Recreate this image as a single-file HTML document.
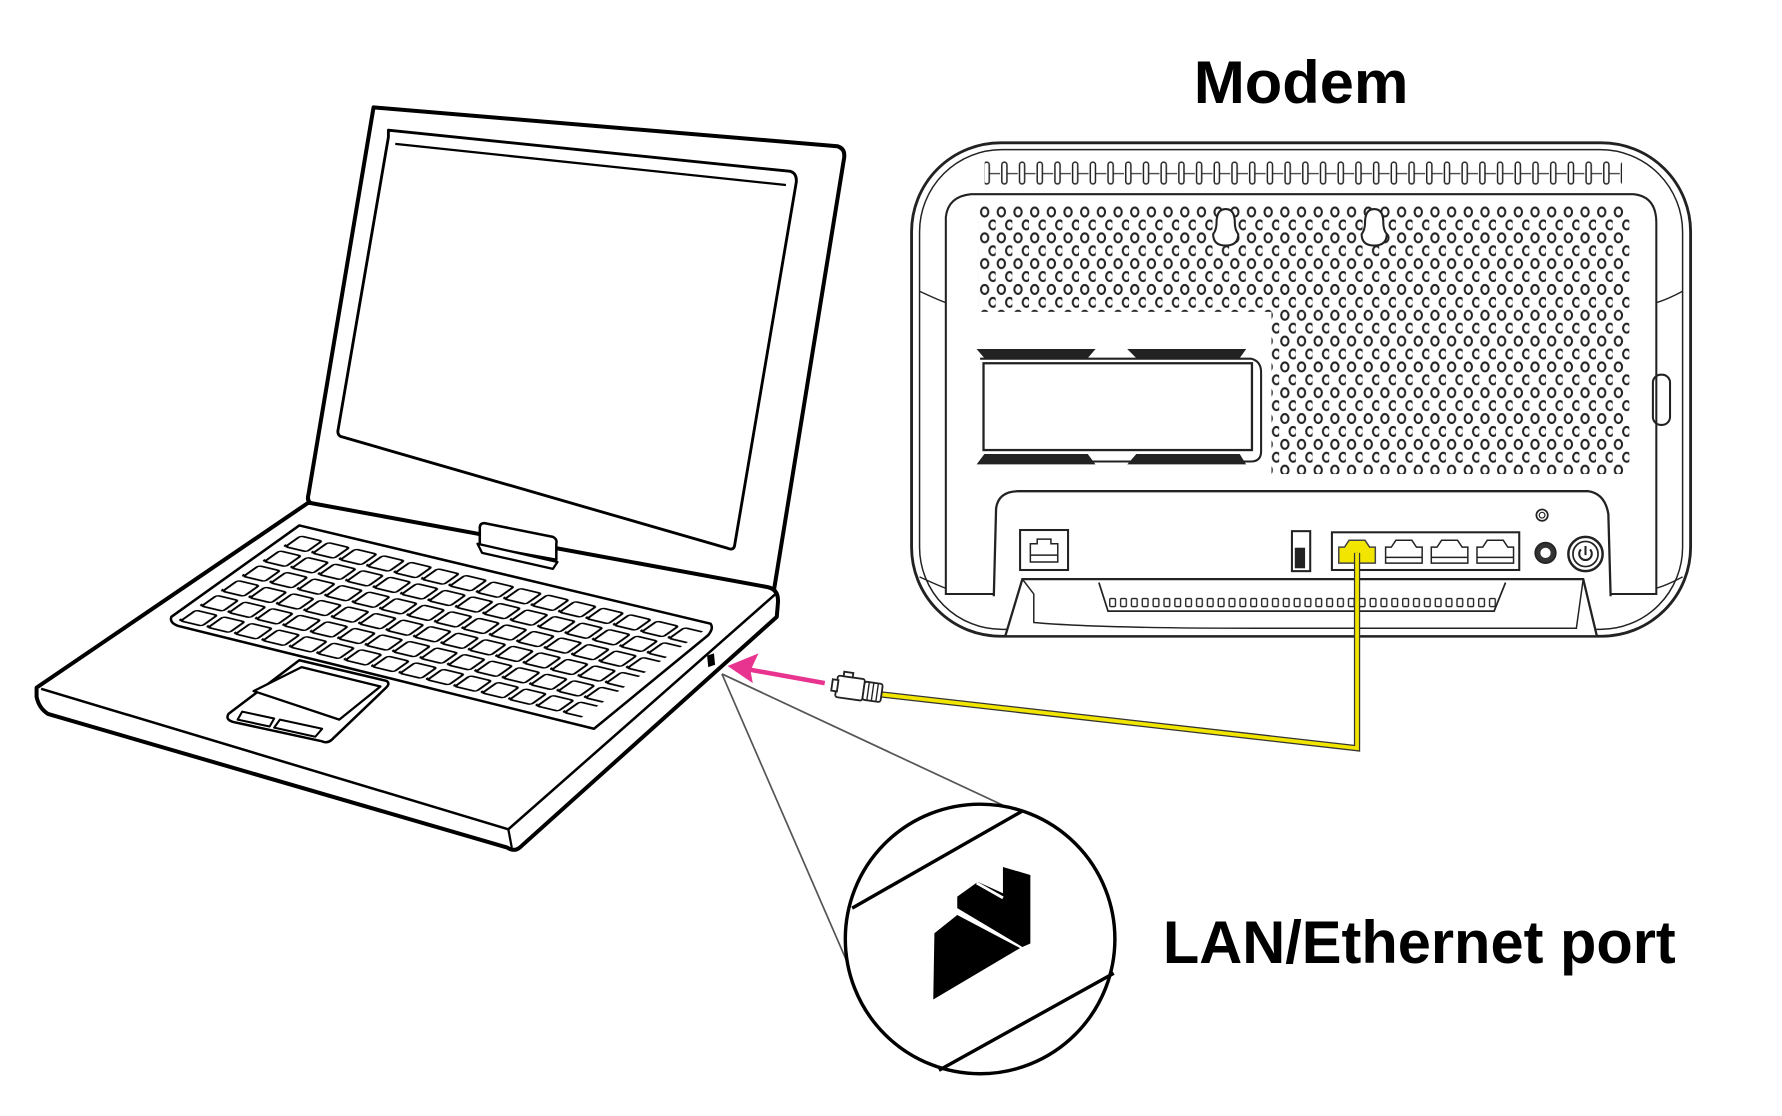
<!DOCTYPE html>
<html><head><meta charset="utf-8"><style>
html,body{margin:0;padding:0;background:#fff;}
svg{display:block;}
</style></head><body>
<svg width="1782" height="1116" viewBox="0 0 1560 977" xmlns="http://www.w3.org/2000/svg">
<defs>
<pattern id="holes" width="14.6" height="22.6" patternUnits="userSpaceOnUse" x="857" y="180">
<ellipse cx="5" cy="5.6" rx="3.2" ry="3.9" fill="none" stroke="#222" stroke-width="1.8"/>
<ellipse cx="12.3" cy="16.9" rx="3.2" ry="3.9" fill="none" stroke="#222" stroke-width="1.8"/>
</pattern>
<pattern id="vents" width="15.5" height="30" patternUnits="userSpaceOnUse" x="860" y="140">
<rect x="1.5" y="2" width="4.5" height="19" rx="2.2" fill="none" stroke="#222" stroke-width="1.3"/>
<line x1="6" y1="12" x2="15.5" y2="12" stroke="#222" stroke-width="1"/>
</pattern>
<pattern id="slots" width="9.5" height="20" patternUnits="userSpaceOnUse" x="970" y="520">
<rect x="1.5" y="4" width="5" height="7" rx="1" fill="none" stroke="#222" stroke-width="1.2"/>
</pattern>
<pattern id="keys" width="20" height="20" patternUnits="userSpaceOnUse">
<rect x="2" y="2.5" width="15.5" height="14.5" rx="2" fill="#fff" stroke="#000" stroke-width="1.8"/>
<line x1="2" y1="17" x2="-1" y2="14" stroke="#000" stroke-width="1.4"/>
</pattern>
</defs>

<text x="1139" y="90" font-family="Liberation Sans, sans-serif" font-weight="bold" font-size="53" text-anchor="middle" textLength="188" lengthAdjust="spacingAndGlyphs">Modem</text>
<text x="1018" y="843" font-family="Liberation Sans, sans-serif" font-weight="bold" font-size="53" textLength="449" lengthAdjust="spacingAndGlyphs">LAN/Ethernet port</text>

<g fill="none" stroke="#222">
<rect x="798" y="125" width="682" height="432" rx="78" stroke-width="2.5"/>
<rect x="805" y="131" width="668" height="420" rx="72" stroke-width="1.3"/>
<rect x="862" y="140" width="558" height="24" fill="url(#vents)" stroke="none"/>
<path d="M828,190 Q830,172 850,170 L1430,170 Q1450,172 1450,195 L1450,520 L828,520 Z" stroke-width="1.8"/>
<path d="M805,255 Q820,262 828,265 M1473,255 Q1460,262 1450,265 M805,505 Q820,512 828,515 M1473,505 Q1460,512 1450,515" stroke-width="1.2"/>
<rect x="857" y="180" width="569.4" height="93" fill="url(#holes)" stroke="none"/>
<rect x="1113.1" y="273" width="313.3" height="142" fill="url(#holes)" stroke="none"/>
<path d="M1073,183 q-8,0 -8,12 q0,6 -3,10 q0,10 11,10 q11,0 11,-10 q-3,-4 -3,-10 q0,-12 -8,-12z" fill="#fff" stroke-width="1.8"/>
<path d="M1203,183 q-8,0 -8,12 q0,6 -3,10 q0,10 11,10 q11,0 11,-10 q-3,-4 -3,-10 q0,-12 -8,-12z" fill="#fff" stroke-width="1.8"/>
<rect x="855" y="303" width="252" height="107" fill="#fff" stroke="none"/>
<path d="M858,314 L1095,314 Q1104,316 1104,326 L1104,395 Q1104,404 1095,404 L858,404" stroke-width="1.8"/>
<rect x="861" y="318" width="235" height="76" stroke-width="2"/>
<path d="M856,306 L958,306 L952,313 L862,313 Z M988,306 L1090,306 L1085,313 L995,313 Z M856,406 L862,398 L952,398 L958,406 Z M988,406 L995,398 L1085,398 L1090,406 Z" fill="#222" stroke-width="1"/>
<rect x="1447" y="328" width="15" height="44" rx="7" stroke-width="1.8"/>
<path d="M870,522 L872,445 Q874,430 892,430 L1390,430 Q1405,432 1408,450 L1410,522" fill="#fff" stroke-width="2"/>
<rect x="893" y="464" width="42" height="35" stroke-width="1.8"/>
<path d="M902,492 L902,476 L908,476 L908,472 L920,472 L920,476 L926,476 L926,492 Z M902,486 L926,486" stroke-width="1.3"/>
<rect x="1131" y="465" width="16" height="35" stroke-width="1.8"/>
<rect x="1134" y="480" width="8" height="17" fill="#222" stroke-width="1"/>
<rect x="1166" y="466" width="164" height="33" stroke-width="1.8"/>
<path d="M1172,493 L1172,479 L1177,479 L1181,473 L1195,473 L1199,479 L1204,479 L1204,493 Z" fill="#f2e600" stroke="#444" stroke-width="1.3"/>
<path d="M1213,493 L1213,479 L1218,479 L1222,473 L1236,473 L1240,479 L1245,479 L1245,493 Z M1213,488 L1245,488" stroke-width="1.3"/>
<path d="M1253,493 L1253,479 L1258,479 L1262,473 L1276,473 L1280,479 L1285,479 L1285,493 Z M1253,488 L1285,488" stroke-width="1.3"/>
<path d="M1293,493 L1293,479 L1298,479 L1302,473 L1316,473 L1320,479 L1325,479 L1325,493 Z M1293,488 L1325,488" stroke-width="1.3"/>
<circle cx="1350" cy="451" r="5" stroke-width="1.5"/><circle cx="1350" cy="451" r="2.5" stroke-width="1"/>
<circle cx="1353" cy="484" r="9" fill="#333" stroke-width="1.5"/><circle cx="1353" cy="484" r="4" fill="#fff" stroke="#fff" stroke-width="1"/>
<circle cx="1388" cy="485" r="15" stroke-width="2.2"/><circle cx="1388" cy="485" r="11" stroke-width="1.5"/>
<path d="M1384,481 a5.5,5.5 0 1 0 8,0 M1388,478 L1388,486" stroke-width="1.8"/>
<path d="M880,557 L895,507 L1386,507 L1398,557" fill="#fff" stroke-width="2"/>
<path d="M895,507 L905,520 L905,545 Q960,550 1100,550 L1380,550 L1386,507" stroke-width="1.3"/>
<path d="M962,510 L970,535 L1308,535 L1318,510" stroke-width="1.5"/>
<rect x="970" y="520" width="342" height="14" fill="url(#slots)" stroke="none"/>
<path d="M880,557 L1398,557" stroke-width="2"/>
</g>

<path d="M1188,484 L1188,655 L772,608" fill="none" stroke="#333" stroke-width="5.5"/>
<path d="M1188,484 L1188,655 L772,608" fill="none" stroke="#f2e600" stroke-width="3.3"/>
<g transform="rotate(8 752 604)" fill="#fff" stroke="#222" stroke-width="1.6">
<rect x="732" y="594" width="24" height="19" rx="2"/>
<rect x="728" y="598" width="5" height="10"/>
<rect x="737" y="590" width="8" height="4"/>
<rect x="756" y="596" width="16" height="16" rx="2"/>
<path d="M760,596 L760,612 M764,596 L764,612 M768,596 L768,612" stroke-width="1.2"/>
</g>

<line x1="722" y1="598" x2="655" y2="586" stroke="#e8338f" stroke-width="4"/>
<polygon points="637,583 664,572 657,587 659,598" fill="#e8338f"/>

<path d="M632,590 L745,850 M632,590 L893,712" fill="none" stroke="#555" stroke-width="1.5"/>

<circle cx="858" cy="822" r="118" fill="#fff" stroke="#000" stroke-width="3"/>
<path d="M746,795 L895,710 M822,937 L975,852" stroke="#000" stroke-width="3" fill="none"/>
<polygon points="818,817 838,801 893,830 817,875" fill="#000"/>
<polygon points="838,785 856,772 878,782 878,759 902,766 902,826 895,829 838,795" fill="#000"/>
<path d="M855,773 L878,786" stroke="#fff" stroke-width="2.5"/>

<g fill="#fff" stroke="#000" stroke-linejoin="round">
<path d="M327,94 L733,128 Q740,130 739,138 L677,520 L672,524 L275,442 Q268,440 270,433 Z" stroke-width="3.5"/>
<path d="M340,114 L692,150 Q698,152 697,160 L643,478 Q642,482 637,480 L298,382 Q295,380 296,376 L340,120 Z" stroke-width="2.5"/>
<path d="M346,126 L688,162" stroke-width="2" fill="none"/>
<path d="M32,602 L270,440 L672,514 Q682,516 681,528 L680,540 L455,742 Q450,746 444,742 L42,625 Q34,620 32,610 Z" stroke-width="3.5"/>
<path d="M36,603 L445,726 L679,520" fill="none" stroke-width="2.2"/>
<path d="M445,726 L448,742" fill="none" stroke-width="2"/>
<path d="M424,458 L484,470 Q488,472 487,476 L487,490 L420,478 L420,462 Q420,458 424,458 Z" stroke-width="2.2"/>
<path d="M418,476 L488,492 L484,498 L422,484 Z" stroke-width="2"/>
<path d="M150,540 L262,460 L622,546 Q625,550 620,556 L520,638 L156,548 Q148,545 150,540 Z" stroke-width="2.2"/>
<g transform="matrix(1.2,0.2867,-0.9167,0.65,263,467)">
<rect x="0" y="0" width="295" height="118" fill="url(#keys)" stroke="none"/>
</g>
<path d="M200,625 L262,578 L338,596 Q342,598 338,602 L290,648 Q286,651 282,649 L204,632 Q197,630 200,625 Z" stroke-width="2.2"/>
<path d="M222,605 L264,584 L333,601 L297,630 Z" stroke-width="2"/>
<path d="M212,623 L240,629 L236,636 L208,630 Z M245,630 L282,638 L276,645 L240,637 Z" stroke-width="1.8"/>
</g>
<path d="M619,574 L625,572 L626,582 L620,584 Z" fill="#000"/>
</svg>
</body></html>
